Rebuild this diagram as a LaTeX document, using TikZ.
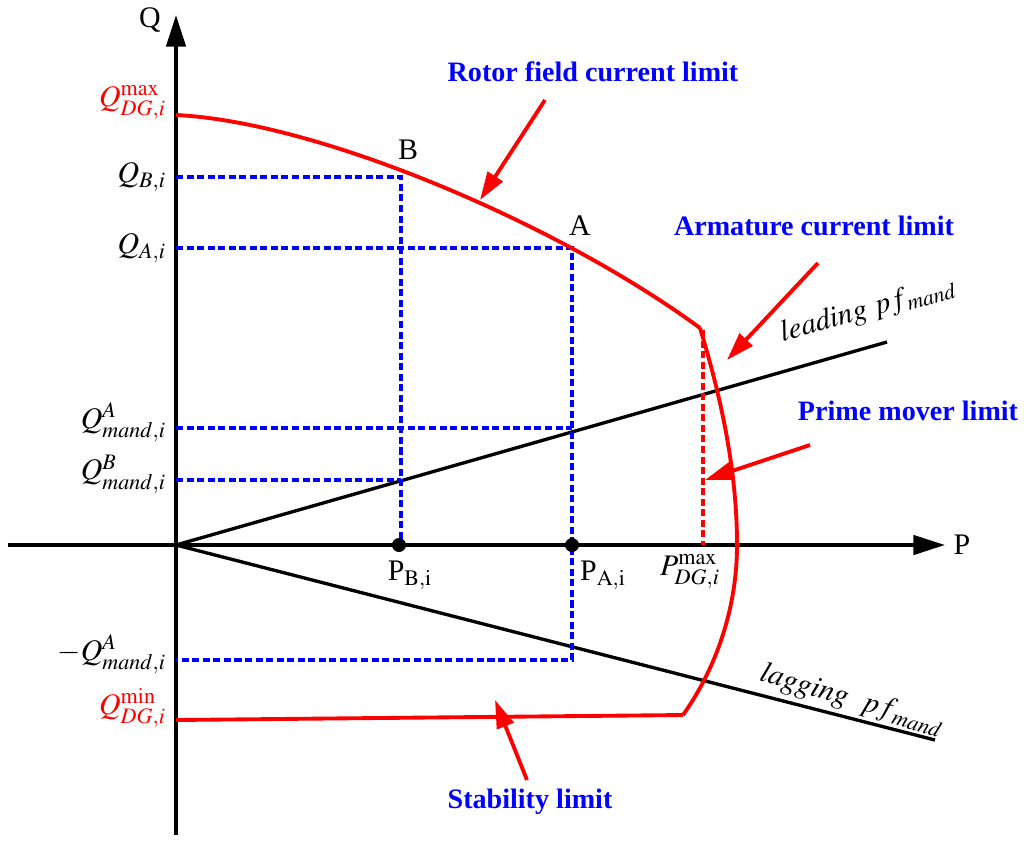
\documentclass[tikz,border=0pt]{standalone}
\usepackage{mathptmx}
\usepackage{fontspec}
\setmainfont{Liberation Serif}
\usetikzlibrary{arrows.meta}
\tikzset{
  lim/.style={red, line width=2.2pt},
  grid/.style={blue, dashed, dash pattern=on 4pt off 2pt, line width=1.8pt},
  callout/.style={red, line width=2.2pt, -{Triangle[length=16pt,width=10pt]}},
  note/.style={blue, font=\fontsize{16}{18}\selectfont\bfseries},
  lab/.style={font=\fontsize{17}{19}\selectfont},
  axis/.style={line width=2pt, -{Triangle[length=18pt,width=11pt]}}
}
\begin{document}
\begin{tikzpicture}[x=0.02cm,y=-0.02cm]
        \useasboundingbox (0,0) rectangle (1024,840);
        % axes
        \coordinate (O) at (176,545);
        \draw [axis] (8,545) -- (945,545);
        \draw [axis] (176,835) -- (176,15);
        \node [lab] (P) at (962,545) {P};
        \node [lab] (Q) at (150,20) {Q};
        % pf lines
        \draw [line width=1.9pt] (O) -- (887,342);
        \draw [line width=1.9pt] (O) -- (935,740);
        \node [lab, rotate=16] at (868,310) {$\mathit{leading}\ pf_{\,mand}$};
        \node [lab, rotate=-16] at (852,700) {$\mathit{lagging}\ \ pf_{\,mand}$};
        % dashed grid
        \draw [grid] (176,177) -- (401,177) -- (401,545);
        \draw [grid] (176,248) -- (572,248) -- (572,660) -- (176,660);
        \draw [grid] (176,428) -- (572,428);
        \draw [grid] (176,480) -- (401,480);
        \draw [red, dashed, dash pattern=on 4pt off 2pt, line width=1.8pt] (703,330) -- (703,545);
        % limits
        \draw [lim] (176,115) .. controls (320,122) and (560,225) .. (700,328);
        \draw [lim] (700,328) .. controls (725,410) and (737,480) .. (737,545)
                   .. controls (737,610) and (715,670) .. (683,715);
        \draw [lim] (176,720) -- (683,715);
        % points
        \fill (399,545) circle (7);
        \fill (572,545) circle (7);
        \node [lab] at (408,150) {B};
        \node [lab] at (580,226) {A};
        \node [lab, below] at (410,555) {P$_{\mathrm{B,i}}$};
        \node [lab, below] at (603,555) {P$_{\mathrm{A,i}}$};
        \node [lab, below] at (690,548) {$P_{DG,i}^{\max}$};
        % Q labels
        \node [lab, left, red] at (172,103) {$Q_{DG,i}^{\max}$};
        \node [lab, left] at (172,177) {$Q_{B,i}$};
        \node [lab, left] at (172,248) {$Q_{A,i}$};
        \node [lab, left] at (172,422) {$Q_{mand,i}^{A}$};
        \node [lab, left] at (172,474) {$Q_{mand,i}^{B}$};
        \node [lab, left] at (172,654) {$-Q_{mand,i}^{A}$};
        \node [lab, left, red] at (172,708) {$Q_{DG,i}^{\min}$};
        % notes
        \node [note] (rotor) at (593,72) {Rotor field current limit};
        \node [note] (arm) at (814,226) {Armature current limit};
        \node [note] (prime) at (908,411) {Prime mover limit};
        \node [note] (stab) at (530,802) {Stability limit};
        \coordinate (rt) at (480,200);
        \coordinate (at) at (727,360);
        \coordinate (pt) at (705,480);
        \coordinate (st) at (495,700);
        \draw [callout] (545,100) -- (rt);
        \draw [callout] (818,263) -- (at);
        \draw [callout] (810,445) -- (pt);
        \draw [callout] (527,780) -- (st);
      \end{tikzpicture}
\end{document}
